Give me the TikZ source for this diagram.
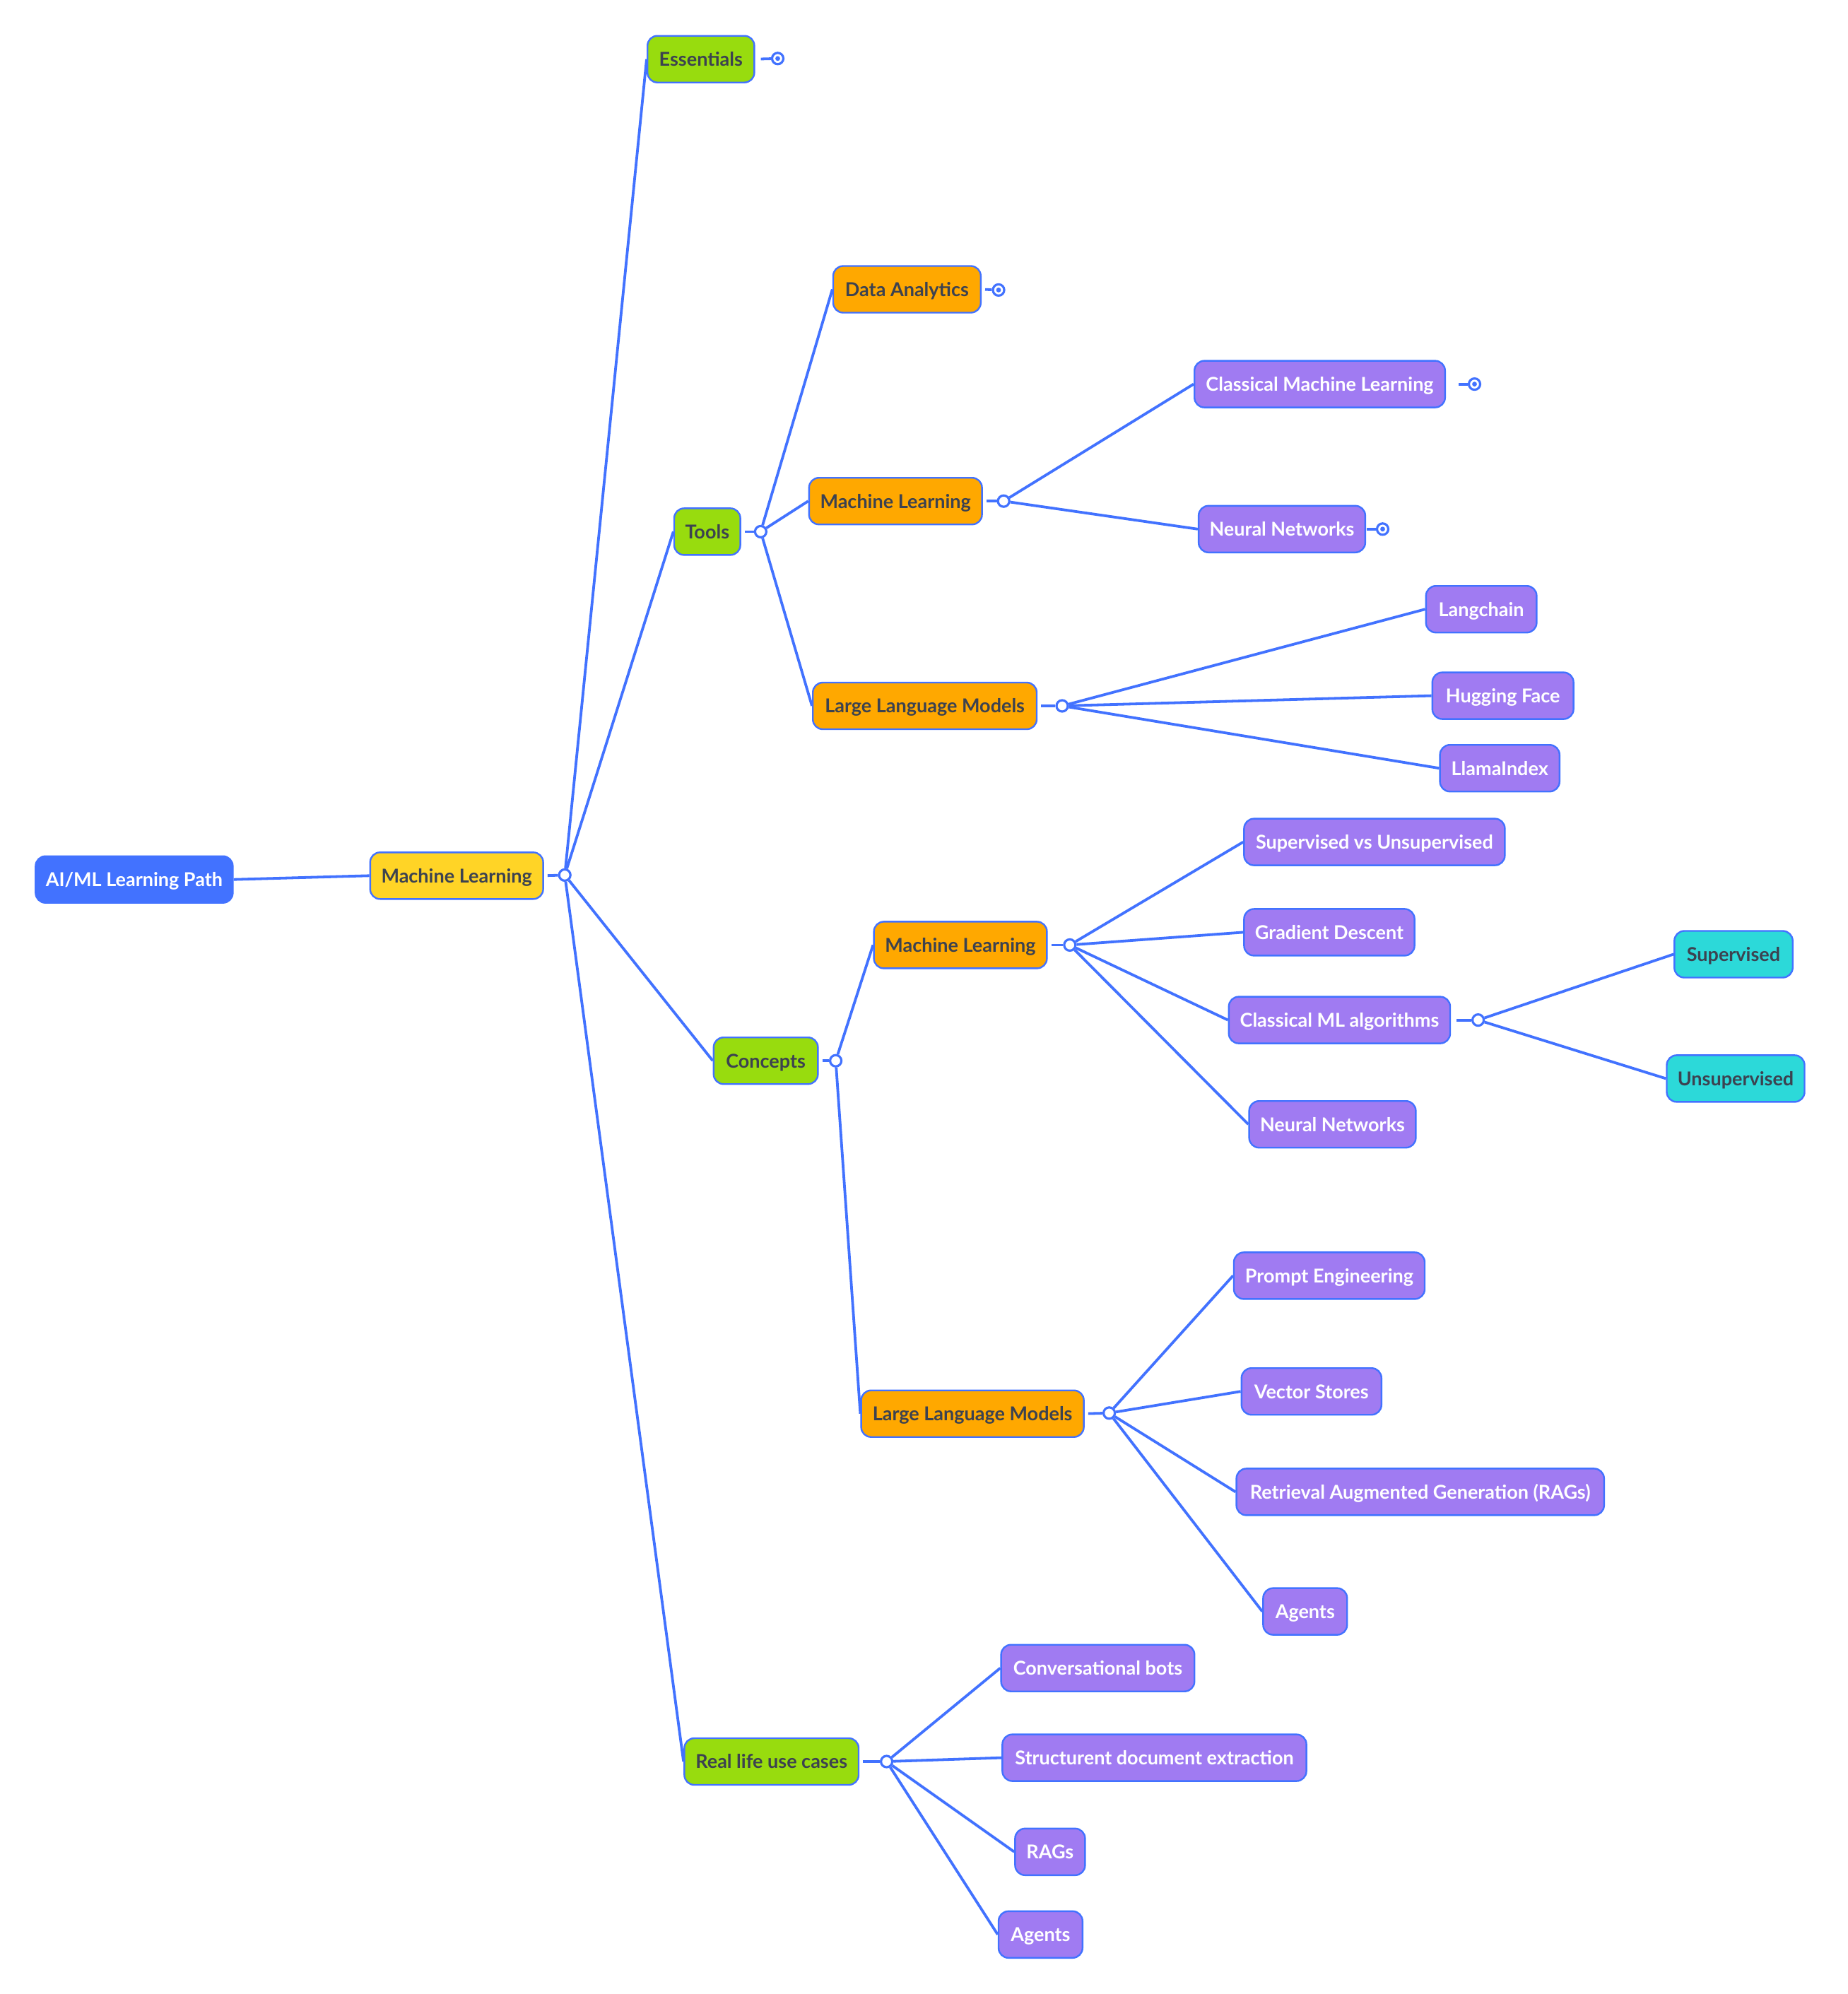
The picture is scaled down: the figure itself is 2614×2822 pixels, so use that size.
\documentclass[tikz,border=0pt]{standalone}
\usepackage{fontspec}
\setmainfont{Lato}
\definecolor{edge}{HTML}{4272FF}
\definecolor{rootblue}{HTML}{4272FF}
\definecolor{yellowA}{HTML}{FFD426}
\definecolor{greenA}{HTML}{98DC0E}
\definecolor{orangeA}{HTML}{FFA800}
\definecolor{purpleA}{HTML}{A07BF2}
\definecolor{tealA}{HTML}{2CD9D9}
\definecolor{darkA}{HTML}{3C4250}
\tikzset{
  box/.style={rounded corners=7pt, draw=edge, line width=1.2pt, minimum height=33pt,
    inner sep=0pt, font=\bfseries\fontsize{13.5}{15}\selectfont, align=center,
    text height=11pt, text depth=1.1pt},
  rootbox/.style={box, fill=rootblue, draw=rootblue, text=white},
  lvA/.style={box, fill=yellowA, text=darkA},
  lvB/.style={box, fill=greenA, text=darkA},
  lvC/.style={box, fill=orangeA, text=darkA},
  lvD/.style={box, fill=purpleA, text=white},
  lvE/.style={box, fill=tealA, text=darkA},
  conn/.style={draw=edge, line width=1.9pt},
  stub/.style={conn, shorten <=2.5pt},
  hub/.style={circle, draw=edge, fill=white, line width=1.6pt, minimum size=8pt, inner sep=0pt},
  fold/.style={circle, draw=edge, fill=white, line width=1.6pt, minimum size=8pt, inner sep=0pt},
}
\begin{document}
\begin{tikzpicture}[x=0.5pt,y=-0.5pt]
\useasboundingbox[fill=white] (0,0) rectangle (2614,2822);
% boxes
\node[rootbox, minimum width=139.5pt] (root) at (189.9,1244.7) {AI/ML Learning Path};
\node[lvA, minimum width=122.4pt] (ml0) at (646.2,1239.3) {Machine Learning};
\node[lvB, minimum width=75.6pt] (ess) at (991.8,83.7) {Essentials};
\node[lvB, minimum width=46.8pt] (tools) at (1000.8,752.4) {Tools};
\node[lvB, minimum width=73.8pt] (conc) at (1083.6,1501.2) {Concepts};
\node[lvB, minimum width=123.3pt] (real) at (1091.7,2493) {Real life use cases};
\node[lvC, minimum width=104.4pt] (da) at (1283.4,409.5) {Data Analytics};
\node[lvC, minimum width=122.4pt] (mlt) at (1267.2,709.2) {Machine Learning};
\node[lvC, minimum width=158.4pt] (llmt) at (1308.6,999) {Large Language Models};
\node[lvD, minimum width=177.3pt] (cml) at (1867.5,543.6) {Classical Machine Learning};
\node[lvD, minimum width=117.9pt] (nna) at (1814,748.8) {Neural Networks};
\node[lvD, minimum width=78.3pt] (lc) at (2096.1,862.2) {Langchain};
\node[lvD, minimum width=99.9pt] (hf) at (2126.7,984.6) {Hugging Face};
\node[lvD, minimum width=84.6pt] (li) at (2122.2,1087.2) {LlamaIndex};
\node[lvC, minimum width=122.4pt] (mlc) at (1359,1337.4) {Machine Learning};
\node[lvC, minimum width=157.5pt] (llmc) at (1376.1,2000.7) {Large Language Models};
\node[lvD, minimum width=184.5pt] (svu) at (1944.9,1191.6) {Supervised vs Unsupervised};
\node[lvD, minimum width=120.6pt] (gd) at (1881,1319.4) {Gradient Descent};
\node[lvD, minimum width=156.6pt] (cmla) at (1895.4,1443.6) {Classical ML algorithms};
\node[lvD, minimum width=117.9pt] (nnb) at (1885.5,1591.2) {Neural Networks};
\node[lvE, minimum width=83.7pt] (sup) at (2453,1350.5) {Supervised};
\node[lvE, minimum width=97.5pt] (unsup) at (2456,1526.4) {Unsupervised};
\node[lvD, minimum width=135pt] (pe) at (1881,1805.4) {Prompt Engineering};
\node[lvD, minimum width=99pt] (vs) at (1855.8,1969.2) {Vector Stores};
\node[lvD, minimum width=260.1pt] (rag) at (2009.7,2111.4) {Retrieval Augmented Generation (RAGs)};
\node[lvD, minimum width=59.4pt] (aga) at (1846.8,2280.6) {Agents};
\node[lvD, minimum width=136.8pt] (cb) at (1553.4,2360.7) {Conversational bots};
\node[lvD, minimum width=215.1pt] (sde) at (1633.5,2487.6) {Structurent document extraction};
\node[lvD, minimum width=49.5pt] (rags) at (1485.9,2620.8) {RAGs};
\node[lvD, minimum width=59.4pt] (agb) at (1472.4,2737.8) {Agents};
% hubs
\node[hub] (h0) at (799.2,1238.4) {};
\node[hub] (htools) at (1076.4,752.4) {};
\node[hub] (hconc) at (1182.6,1501.2) {};
\node[hub] (hreal) at (1254.6,2493) {};
\node[hub] (hmlt) at (1420.2,709.2) {};
\node[hub] (hllmt) at (1503,999) {};
\node[hub] (hmlc) at (1513.8,1337.4) {};
\node[hub] (hllmc) at (1569.6,1999.8) {};
\node[hub] (hcmla) at (2091.6,1443.6) {};
% folded indicators
\node[fold] (fess) at (1100.5,82.8) {};
\node[fold] (fda) at (1413,410.4) {};
\node[fold] (fcml) at (2086.5,543.6) {};
\node[fold] (fnna) at (1956.5,748.8) {};
\foreach \f in {fess,fda,fcml,fnna} \fill[edge] (\f.center) circle (1.7pt);
% connectors
\draw[conn] (root.east) -- (ml0.west);
\draw[stub] (ml0.east) -- (h0);
\draw[conn] (h0) -- (ess.west);
\draw[conn] (h0) -- (tools.west);
\draw[conn] (h0) -- (conc.west);
\draw[conn] (h0) -- (real.west);
\draw[stub, shorten <=4pt] (ess.east) -- (fess);
\draw[stub] (tools.east) -- (htools);
\draw[conn] (htools) -- (da.west);
\draw[conn] (htools) -- (mlt.west);
\draw[conn] (htools) -- (llmt.west);
\draw[stub] (da.east) -- (fda);
\draw[stub] (mlt.east) -- (hmlt);
\draw[conn] (hmlt) -- (cml.west);
\draw[conn] (hmlt) -- (nna.west);
\draw[stub, shorten <=9pt] (cml.east) -- (fcml);
\draw[stub, shorten <=0.5pt] (nna.east) -- (fnna);
\draw[stub] (llmt.east) -- (hllmt);
\draw[conn] (hllmt) -- (lc.west);
\draw[conn] (hllmt) -- (hf.west);
\draw[conn] (hllmt) -- (li.west);
\draw[stub] (conc.east) -- (hconc);
\draw[conn] (hconc) -- (mlc.west);
\draw[conn] (hconc) -- (llmc.west);
\draw[stub] (mlc.east) -- (hmlc);
\draw[conn] (hmlc) -- (svu.west);
\draw[conn] (hmlc) -- (gd.west);
\draw[conn] (hmlc) -- (cmla.west);
\draw[conn] (hmlc) -- (nnb.west);
\draw[stub, shorten <=4pt] (cmla.east) -- (hcmla);
\draw[conn] (hcmla) -- (sup.west);
\draw[conn] (hcmla) -- (unsup.west);
\draw[stub] (llmc.east) -- (hllmc);
\draw[conn] (hllmc) -- (pe.west);
\draw[conn] (hllmc) -- (vs.west);
\draw[conn] (hllmc) -- (rag.west);
\draw[conn] (hllmc) -- (aga.west);
\draw[stub] (real.east) -- (hreal);
\draw[conn] (hreal) -- (cb.west);
\draw[conn] (hreal) -- (sde.west);
\draw[conn] (hreal) -- (rags.west);
\draw[conn] (hreal) -- (agb.west);
\end{tikzpicture}
\end{document}
